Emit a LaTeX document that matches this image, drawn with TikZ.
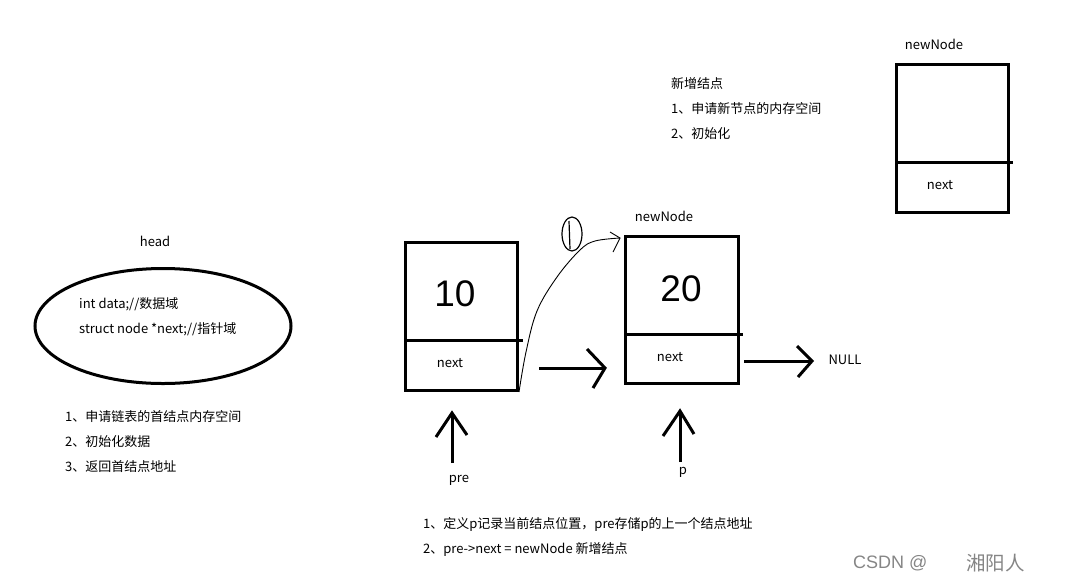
\documentclass[tikz,border=0pt]{standalone}
\usepackage{fontspec}
\usetikzlibrary{shapes.geometric}
\setmainfont{Noto Sans CJK SC}
\newfontfamily\digitfont{Liberation Sans}
\newfontfamily\wmfont{Liberation Sans}
\begin{document}
\begin{tikzpicture}[x=1pt,y=-1pt,
  txt/.style={anchor=west,inner sep=0pt,font=\fontsize{13}{15}\selectfont},
  ctxt/.style={inner sep=0pt,font=\fontsize{13}{15}\selectfont},
  box/.style={draw,line width=3pt,anchor=north west,inner sep=0pt},
  divider/.style={line width=3pt},
  hand/.style={line width=3pt},
  thinhand/.style={line width=0.9pt},
  digits/.style={inner sep=0pt,font=\digitfont\fontsize{37}{37}\selectfont},
  wm/.style={anchor=west,inner sep=0pt,text=black!48}]
\useasboundingbox (0,0) rectangle (1087,582);

% ---- head ellipse ----
\node[ctxt] (headlbl) at (155,241) {head};
\node[draw,line width=3pt,ellipse,minimum width=256pt,minimum height=115pt,inner sep=0pt] (head) at (163,326) {};
\node[txt] (f1) at (79,304) {int data;//数据域};
\node[txt] (f2) at (79,329) {struct node *next;//指针域};
\node[txt] (h1) at (65,417) {1、申请链表的首结点内存空间};
\node[txt] (h2) at (65,442) {2、初始化数据};
\node[txt] (h3) at (65,467) {3、返回首结点地址};

% ---- box 1 (10) ----
\node[box,minimum width=112pt,minimum height=148pt] (b1) at (404,241) {};
\draw[divider] (b1.west |- 0,340) -- (523,340);
\node[digits] (d1) at (455,294) {10};
\node[ctxt] (n1) at (450,363) {next};

% ---- box 2 (20) ----
\node[ctxt] (nn2) at (664,216) {newNode};
\node[box,minimum width=113pt,minimum height=147pt] (b2) at (624,235) {};
\draw[divider] (b2.west |- 0,334) -- (743,334);
\node[digits] (d2) at (681,289) {20};
\node[ctxt] (n2) at (670,357) {next};

% ---- box 3 (new node, top right) ----
\node[ctxt] (nn3) at (934,44) {newNode};
\node[box,minimum width=112pt,minimum height=148pt] (b3) at (895,63) {};
\draw[divider] (b3.west |- 0,162) -- (1013,162);
\node[ctxt] (n3) at (940,185) {next};

\node[txt] (t1) at (671,84) {新增结点};
\node[txt] (t2) at (671,109) {1、申请新节点的内存空间};
\node[txt] (t3) at (671,134) {2、初始化};

% ---- arrow box1 -> box2 ----
\coordinate (a1s) at (539,368);
\coordinate (a1e) at (605,368);
\draw[hand] (a1s) -- (a1e);
\draw[hand] (587,349) -- (a1e) -- (593,388);

% ---- arrow to NULL ----
\node[ctxt] (null) at (845,360) {NULL};
\coordinate (a2s) at (744,361);
\coordinate (a2e) at (812,361);
\draw[hand] (a2s) -- (a2e);
\draw[hand] (797,346) -- (a2e) -- (798,377);

% ---- pointer arrows ----
\node[ctxt] (pre) at (459,480) {pre};
\coordinate (pt) at (452,413);
\draw[hand] (452,463) -- (pt);
\draw[hand] (436,437) -- (pt) -- (467,435);

\node[ctxt] (p) at (683,472) {p};
\coordinate (qt) at (680,411);
\draw[hand] (680,462) -- (qt);
\draw[hand] (663,436) -- (qt) -- (694,434);

% ---- hand-drawn curve pre->next = newNode ----
\coordinate (ct) at (620,238);
\draw[thinhand] plot[smooth,tension=0.6] coordinates {(b1.south east) (526,352) (537,311) (557,277) (580,250) (595,241) (ct)};
\draw[thinhand] (610,232) -- (ct) -- (613,252);
\draw[line width=1.2pt] (572,234) ellipse [x radius=10pt,y radius=17pt];
\draw[line width=1.2pt] (569,221) -- (570,249);

% ---- bottom notes ----
\node[txt] (s1) at (423,524) {1、定义p记录当前结点位置，pre存储p的上一个结点地址};
\node[txt] (s2) at (423,549) {2、pre->next = newNode 新增结点};

% ---- watermark ----
\node[wm,font=\wmfont\fontsize{18}{20}\selectfont] (w1) at (853,563) {CSDN @};
\node[wm,font=\fontsize{19.5}{21}\selectfont] (w2) at (966,563) {湘阳人};
\end{tikzpicture}
\end{document}
